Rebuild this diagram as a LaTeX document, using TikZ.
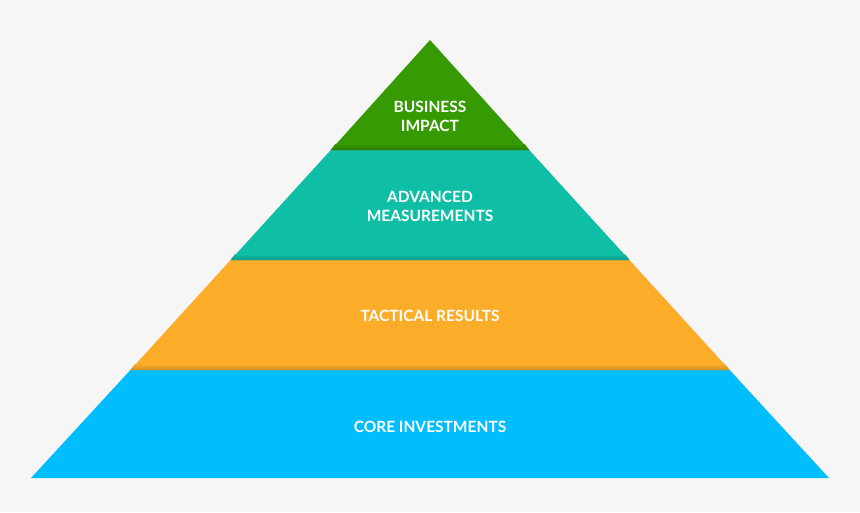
\documentclass[tikz,border=0pt]{standalone}
\usepackage{fontspec}
\setmainfont{Lato}
\begin{document}
\begin{tikzpicture}[x=1pt,y=-1pt,
 lbl/.style={text=white,font=\bfseries\fontsize{15.5}{19}\selectfont,align=center}]
\definecolor{bg}{HTML}{F6F6F6}
\definecolor{cg}{HTML}{369A03}
\definecolor{ct}{HTML}{0FBFA5}
\definecolor{co}{HTML}{FBAD2A}
\definecolor{cb}{HTML}{00BEFE}
\fill[bg] (0,0) rectangle (860,512);
\useasboundingbox (0,0) rectangle (860,512);
\fill[cb] (130.4,370) -- (729.6,370) -- (829,478) -- (31,478) -- cycle;
\fill[co] (230.6,260) -- (629.4,260) -- (729.6,370) -- (130.4,370) -- cycle;
\fill[ct] (330.8,150) -- (529.2,150) -- (629.4,260) -- (230.6,260) -- cycle;
\fill[cg] (430,40) -- (529.2,150) -- (330.8,150) -- cycle;
% shadows at bottom of upper layers
\shade[top color=cg, bottom color=cg!80!black] (335.3,144) -- (524.7,144) -- (529.2,150) -- (330.8,150) -- cycle;
\shade[top color=ct, bottom color=ct!80!black] (235.1,254) -- (624.9,254) -- (629.4,260) -- (230.6,260) -- cycle;
\shade[top color=co, bottom color=co!82!black] (134.9,364) -- (725.1,364) -- (729.6,370) -- (130.4,370) -- cycle;
\node[lbl] (t1) at (430,116) {BUSINESS\\IMPACT};
\node[lbl] (t2) at (430,206) {ADVANCED\\MEASUREMENTS};
\node[lbl] (t3) at (430,316) {TACTICAL RESULTS};
\node[lbl] (t4) at (430,427) {CORE INVESTMENTS};
\end{tikzpicture}
\end{document}
